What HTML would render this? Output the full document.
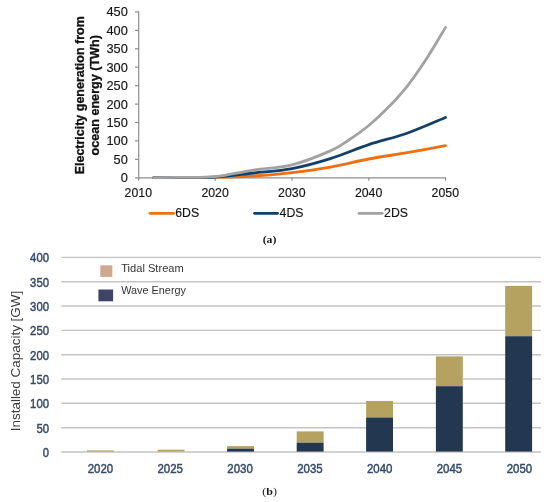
<!DOCTYPE html>
<html><head><meta charset="utf-8">
<style>
html,body{margin:0;padding:0;background:#fff;}
svg{display:block;}
text{font-family:"Liberation Sans",sans-serif;}
.ser{font-family:"Liberation Serif",serif;}
</style></head><body>
<svg width="550" height="502" viewBox="0 0 550 502">
<rect width="550" height="502" fill="#fff"/>

<g stroke="#8e8e8e" stroke-width="1.2" fill="none">
<line x1="138.7" y1="11.4" x2="138.7" y2="180.8"/>
<line x1="135" y1="177.8" x2="446.1" y2="177.8"/>
<line x1="135" y1="159.4" x2="138.7" y2="159.4"/>
<line x1="135" y1="140.9" x2="138.7" y2="140.9"/>
<line x1="135" y1="122.5" x2="138.7" y2="122.5"/>
<line x1="135" y1="104.1" x2="138.7" y2="104.1"/>
<line x1="135" y1="85.7" x2="138.7" y2="85.7"/>
<line x1="135" y1="67.2" x2="138.7" y2="67.2"/>
<line x1="135" y1="48.8" x2="138.7" y2="48.8"/>
<line x1="135" y1="30.4" x2="138.7" y2="30.4"/>
<line x1="135" y1="11.9" x2="138.7" y2="11.9"/>
<line x1="215.2" y1="177.8" x2="215.2" y2="180.8"/>
<line x1="292.0" y1="177.8" x2="292.0" y2="180.8"/>
<line x1="368.8" y1="177.8" x2="368.8" y2="180.8"/>
<line x1="445.5" y1="177.8" x2="445.5" y2="180.8"/>
</g>
<g font-size="12.8" fill="#151515" stroke="#151515" stroke-width="0.15" text-anchor="end">
<text x="127.8" y="182.3">0</text>
<text x="127.8" y="163.9">50</text>
<text x="127.8" y="145.4">100</text>
<text x="127.8" y="127.0">150</text>
<text x="127.8" y="108.6">200</text>
<text x="127.8" y="90.2">250</text>
<text x="127.8" y="71.7">300</text>
<text x="127.8" y="53.3">350</text>
<text x="127.8" y="34.9">400</text>
<text x="127.8" y="16.4">450</text>
</g>
<g font-size="12.3" fill="#151515" stroke="#151515" stroke-width="0.15" text-anchor="middle">
<text x="138.3" y="197.3">2010</text>
<text x="215.1" y="197.3">2020</text>
<text x="291.8" y="197.3">2030</text>
<text x="368.6" y="197.3">2040</text>
<text x="445.3" y="197.3">2050</text>
</g>
<g font-size="12.4" font-weight="bold" fill="#111" stroke="#111" stroke-width="0.3" text-anchor="middle">
<text transform="translate(84.0,95.3) rotate(-90)" textLength="158.1" lengthAdjust="spacingAndGlyphs">Electricity generation from</text>
<text transform="translate(99.1,95.3) rotate(-90)" textLength="120.4" lengthAdjust="spacingAndGlyphs">ocean energy (TWh)</text>
</g>
<g fill="none" stroke-width="2.8" stroke-linecap="round" stroke-linejoin="round">
<path stroke="#ef7012" d="M153.8,177.7 C157.7,177.7 166.6,177.7 176.9,177.6 C187.1,177.5 202.5,177.5 215.2,177.2 C228.0,177.0 240.8,176.7 253.6,176.0 C266.4,175.2 279.2,174.1 292.0,172.6 C304.8,171.2 317.6,169.4 330.4,167.1 C343.2,164.8 356.0,161.4 368.8,159.0 C381.5,156.6 394.3,154.9 407.1,152.7 C419.9,150.5 439.1,146.9 445.5,145.7"/>
<path stroke="#13406a" d="M153.8,177.7 C157.7,177.7 166.6,177.6 176.9,177.5 C187.1,177.4 202.5,177.8 215.2,177.1 C228.0,176.3 240.8,174.4 253.6,173.0 C266.4,171.6 279.2,171.0 292.0,168.6 C304.8,166.2 317.6,162.6 330.4,158.6 C343.2,154.6 356.0,148.9 368.8,144.6 C381.5,140.4 394.3,137.7 407.1,133.2 C419.9,128.7 439.1,120.1 445.5,117.5"/>
<path stroke="#a2a2a2" d="M153.8,177.7 C157.7,177.6 166.6,177.6 176.9,177.4 C187.1,177.3 202.5,177.9 215.2,176.7 C228.0,175.5 240.8,172.0 253.6,170.1 C266.4,168.1 279.2,168.1 292.0,164.9 C304.8,161.7 320.8,155.1 330.4,150.9 C340.0,146.7 343.2,143.7 349.6,139.5 C356.0,135.2 362.4,130.7 368.8,125.5 C375.1,120.2 381.5,114.3 387.9,107.8 C394.3,101.3 400.7,94.5 407.1,86.4 C413.5,78.3 419.9,68.9 426.3,59.1 C432.7,49.3 442.3,32.7 445.5,27.4"/>
</g>
<g stroke-width="2.7" stroke-linecap="round">
<line x1="150.0" y1="213.3" x2="173.6" y2="213.3" stroke="#ef7012"/>
<line x1="254.5" y1="213.3" x2="277.6" y2="213.3" stroke="#13406a"/>
<line x1="359.0" y1="213.3" x2="382.2" y2="213.3" stroke="#a2a2a2"/>
</g>
<g font-size="12.3" fill="#151515" stroke="#151515" stroke-width="0.15">
<text x="175.2" y="217.4">6DS</text>
<text x="279.6" y="217.4">4DS</text>
<text x="384.1" y="217.4">2DS</text>
</g>
<text class="ser" x="269.5" y="242.5" font-size="11" font-weight="bold" fill="#1a1a1a" text-anchor="middle" textLength="13.7" lengthAdjust="spacingAndGlyphs">(a)</text>

<g stroke="#c4c4c4" stroke-width="1.4">
<line x1="61.3" y1="452.0" x2="541" y2="452.0"/>
<line x1="61.3" y1="427.7" x2="541" y2="427.7"/>
<line x1="61.3" y1="403.3" x2="541" y2="403.3"/>
<line x1="61.3" y1="379.0" x2="541" y2="379.0"/>
<line x1="61.3" y1="354.7" x2="541" y2="354.7"/>
<line x1="61.3" y1="330.4" x2="541" y2="330.4"/>
<line x1="61.3" y1="306.0" x2="541" y2="306.0"/>
<line x1="61.3" y1="281.7" x2="541" y2="281.7"/>
<line x1="61.3" y1="257.4" x2="541" y2="257.4"/>
</g>
<g font-size="12.6" fill="#34496b" stroke="#34496b" stroke-width="0.45" text-anchor="end">
<text x="49" y="456.9" textLength="6.2" lengthAdjust="spacingAndGlyphs">0</text>
<text x="49" y="432.6" textLength="12.6" lengthAdjust="spacingAndGlyphs">50</text>
<text x="49" y="408.2" textLength="18.9" lengthAdjust="spacingAndGlyphs">100</text>
<text x="49" y="383.9" textLength="18.9" lengthAdjust="spacingAndGlyphs">150</text>
<text x="49" y="359.6" textLength="18.9" lengthAdjust="spacingAndGlyphs">200</text>
<text x="49" y="335.2" textLength="18.9" lengthAdjust="spacingAndGlyphs">250</text>
<text x="49" y="310.9" textLength="18.9" lengthAdjust="spacingAndGlyphs">300</text>
<text x="49" y="286.6" textLength="18.9" lengthAdjust="spacingAndGlyphs">350</text>
<text x="49" y="262.3" textLength="18.9" lengthAdjust="spacingAndGlyphs">400</text>
</g>
<text transform="translate(20,361) rotate(-90)" font-size="12" fill="#3c3c3c" text-anchor="middle" textLength="140.5" lengthAdjust="spacingAndGlyphs">Installed Capacity [GW]</text>
<g font-size="12.6" fill="#34496b" stroke="#34496b" stroke-width="0.45" text-anchor="middle">
<text x="100.4" y="473.4" textLength="25.5" lengthAdjust="spacingAndGlyphs">2020</text>
<text x="170.2" y="473.4" textLength="25.5" lengthAdjust="spacingAndGlyphs">2025</text>
<text x="240.1" y="473.4" textLength="25.5" lengthAdjust="spacingAndGlyphs">2030</text>
<text x="309.9" y="473.4" textLength="25.5" lengthAdjust="spacingAndGlyphs">2035</text>
<text x="379.7" y="473.4" textLength="25.5" lengthAdjust="spacingAndGlyphs">2040</text>
<text x="449.5" y="473.4" textLength="25.5" lengthAdjust="spacingAndGlyphs">2045</text>
<text x="519.4" y="473.4" textLength="25.5" lengthAdjust="spacingAndGlyphs">2050</text>
</g>
<rect x="87.0" y="450.4" width="26.9" height="1.2" fill="#b5a160"/>
<rect x="157.6" y="449.7" width="26.9" height="1.9" fill="#b5a160"/>
<rect x="227.1" y="446.1" width="26.9" height="2.6" fill="#b5a160"/>
<rect x="227.1" y="448.7" width="26.9" height="2.9" fill="#233750"/>
<rect x="296.7" y="431.4" width="26.9" height="11.3" fill="#b5a160"/>
<rect x="296.7" y="442.7" width="26.9" height="8.9" fill="#233750"/>
<rect x="366.1" y="401.0" width="26.9" height="16.5" fill="#b5a160"/>
<rect x="366.1" y="417.5" width="26.9" height="34.1" fill="#233750"/>
<rect x="435.9" y="356.4" width="26.9" height="29.8" fill="#b5a160"/>
<rect x="435.9" y="386.2" width="26.9" height="65.4" fill="#233750"/>
<rect x="505.2" y="285.9" width="26.9" height="50.3" fill="#b5a160"/>
<rect x="505.2" y="336.2" width="26.9" height="115.4" fill="#233750"/>
<rect x="100.3" y="265.3" width="12" height="11.6" fill="#cfa892"/>
<rect x="98.4" y="289.5" width="14.7" height="11.8" fill="#3e4368"/>
<g font-size="11.4" fill="#333">
<text x="121.2" y="272" textLength="62.6" lengthAdjust="spacingAndGlyphs">Tidal Stream</text>
<text x="121.2" y="293.8" textLength="64.8" lengthAdjust="spacingAndGlyphs">Wave Energy</text>
</g>
<text class="ser" x="269.6" y="495.2" font-size="10.8" fill="#1a1a1a" text-anchor="middle" textLength="14.7" lengthAdjust="spacingAndGlyphs">(<tspan font-weight="bold">b</tspan>)</text>
</svg>
</body></html>
